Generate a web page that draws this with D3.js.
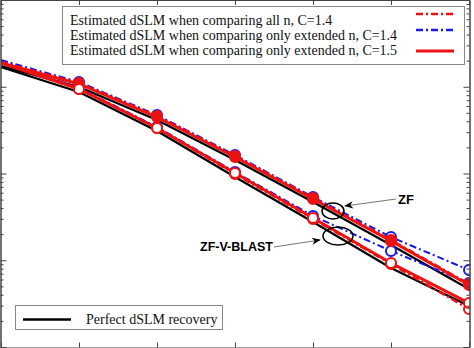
<!DOCTYPE html>
<html><head><meta charset="utf-8">
<script src="https://cdn.jsdelivr.net/npm/d3@7"></script>
<style>html,body{margin:0;padding:0;background:#fff;overflow:hidden}</style>
</head><body>
<svg id="c" width="474" height="348"></svg>
<script>
const snr = [0, 5, 10, 15, 20, 25, 30];
// ZF group
const zfBlueExt14 = [0.0203, 0.01134, 0.00472, 0.001634, 0.000536, 0.000185, 0.0000772];
const zfRedAll14  = [0.0193, 0.01105, 0.00460, 0.001591, 0.000522, 0.000171, 0.0000532];
const zfRedExt15  = [0.0188, 0.01076, 0.00448, 0.001550, 0.000508, 0.000167, 0.0000518];
const zfPerfect   = [0.0173, 0.00993, 0.00414, 0.001430, 0.000469, 0.000150, 0.0000466];
// ZF-V-BLAST group
const vbBlueExt14 = [0.0198, 0.00967, 0.00344, 0.001041, 0.000324, 0.000128, 0.0000547];
const vbRedAll14  = [0.0188, 0.00942, 0.00335, 0.000987, 0.000299, 0.0000905, 0.0000274];
const vbRedExt15  = [0.0188, 0.00942, 0.00335, 0.001013, 0.000307, 0.0000929, 0.0000321];
const vbPerfect   = [0.0169, 0.00870, 0.00309, 0.000911, 0.000276, 0.0000814, 0.0000297];

const legendLabels = [
  "Estimated dSLM when comparing all n, C=1.4",
  "Estimated dSLM when comparing only extended n, C=1.4",
  "Estimated dSLM when comparing only extended n, C=1.5"
];
const legend2Label = "Perfect dSLM recovery";

const svg = d3.select("#c");
const x = d3.scaleLinear().domain([0, 30]).range([1, 469]);
const y = d3.scaleLog().domain([1e-5, 1e-1]).range([347, 0]);

const plot = svg.append("g");
plot.append("clipPath").attr("id","clip").append("rect").attr("x",1).attr("y",-2).attr("width",469).attr("height",352);
const g = plot.append("g").attr("clip-path","url(#clip)");

const axisCol = "#444";
const yMajor = [1e-5,1e-4,1e-3,1e-2,1e-1];
const yMinor = [];
for (let e=-5;e<-1;e++) for (let k=2;k<=9;k++) yMinor.push(k*Math.pow(10,e));
svg.append("g").attr("transform","translate(0.5,0)").call(d3.axisRight(y).tickValues(yMajor).tickSize(6).tickFormat(""));
svg.append("g").attr("transform","translate(0.5,0)").call(d3.axisRight(y).tickValues(yMinor).tickSize(3).tickFormat(""));
svg.append("g").attr("transform","translate(469.5,0)").call(d3.axisLeft(y).tickValues(yMajor).tickSize(6).tickFormat(""));
svg.append("g").attr("transform","translate(469.5,0)").call(d3.axisLeft(y).tickValues(yMinor).tickSize(3).tickFormat(""));
svg.append("g").attr("transform","translate(0,0)").call(d3.axisBottom(x).tickValues(snr).tickSize(5).tickFormat(""));
svg.append("g").attr("transform","translate(0,347.5)").call(d3.axisTop(x).tickValues(snr).tickSize(5).tickFormat(""));
svg.selectAll(".domain").attr("stroke", axisCol);
svg.selectAll(".tick line").attr("stroke", axisCol);

const line = d3.line().x((d,i)=>x(snr[i])).y(d=>y(d));
const dashdot = "7,3,2,3";

function series(vals, color, width, dash, mFill, mStroke) {
  g.append("path").datum(vals).attr("d", line).attr("fill","none")
    .attr("stroke", color).attr("stroke-width", width)
    .attr("stroke-dasharray", dash || null);
  if (mFill !== undefined) {
    const pts = vals.map((v,i)=>({s:snr[i], v})).filter((d,i)=>i>0);
    g.selectAll(null).data(pts).enter().append("circle")
      .attr("cx",d=>x(d.s)).attr("cy",d=>y(d.v)).attr("r",5)
      .attr("fill", mFill).attr("stroke", mStroke).attr("stroke-width", 2);
  }
}
const red = "#ee1111", blue = "#1a1ae6";
series(zfPerfect, "#000", 2.2);
series(vbPerfect, "#000", 2.2);
series(zfBlueExt14, blue, 2, dashdot, "#fff", blue);
series(vbBlueExt14, blue, 2, dashdot, "#fff", blue);
series(zfRedAll14, red, 2.5, dashdot, red, red);
series(zfRedExt15, red, 3, null, red, red);
series(vbRedAll14, red, 2.5, dashdot, "#fff", red);
series(vbRedExt15, red, 3, null, "#fff", red);

// annotations
const defs = svg.append("defs");
defs.append("marker").attr("id","ah").attr("viewBox","0 0 10 10").attr("refX",9).attr("refY",5)
  .attr("markerWidth",9).attr("markerHeight",9).attr("orient","auto-start-reverse")
  .append("path").attr("d","M0,1 L10,5 L0,9 L3,5 Z").attr("fill","#000");
svg.append("ellipse").attr("cx",333).attr("cy",211).attr("rx",11).attr("ry",8)
  .attr("fill","none").attr("stroke","#000").attr("stroke-width",1.5);
svg.append("ellipse").attr("cx",338).attr("cy",236).attr("rx",15).attr("ry",9)
  .attr("fill","none").attr("stroke","#000").attr("stroke-width",1.5);
svg.append("line").attr("x1",396).attr("y1",199).attr("x2",345).attr("y2",206)
  .attr("stroke","#777").attr("stroke-width",1).attr("marker-end","url(#ah)");
svg.append("line").attr("x1",274).attr("y1",247).attr("x2",320).attr("y2",240)
  .attr("stroke","#777").attr("stroke-width",1).attr("marker-end","url(#ah)");
svg.append("text").attr("x",398).attr("y",204).text("ZF")
  .attr("font-family","Liberation Sans, Arial, sans-serif").attr("font-weight","bold").attr("font-size",13);
svg.append("text").attr("x",200).attr("y",251).text("ZF-V-BLAST")
  .attr("font-family","Liberation Sans, Arial, sans-serif").attr("font-weight","bold").attr("font-size",12.5);

// legend 1
const L1 = svg.append("g");
L1.append("rect").attr("x",62.5).attr("y",6.5).attr("width",402).attr("height",58)
  .attr("fill","#fff").attr("stroke","#888").attr("stroke-width",1);
const lstyles = [{c:red,d:dashdot,w:2.5,sy:14},{c:blue,d:dashdot,w:2.5,sy:30},{c:red,d:null,w:3,sy:51}];
legendLabels.forEach((t,i)=>{
  L1.append("text").attr("x",70).attr("y",25+i*15).text(t)
    .attr("font-family","Liberation Serif, Times New Roman, serif").attr("font-size",14).attr("fill","#111");
  L1.append("line").attr("x1",416).attr("x2",454).attr("y1",lstyles[i].sy).attr("y2",lstyles[i].sy)
    .attr("stroke",lstyles[i].c).attr("stroke-width",lstyles[i].w).attr("stroke-dasharray",lstyles[i].d);
});
// legend 2
const L2 = svg.append("g");
L2.append("rect").attr("x",15.5).attr("y",305.5).attr("width",207).attr("height",24)
  .attr("fill","#fff").attr("stroke","#888").attr("stroke-width",1);
L2.append("line").attr("x1",23).attr("x2",71).attr("y1",319.5).attr("y2",319.5).attr("stroke","#000").attr("stroke-width",2.5);
L2.append("text").attr("x",86).attr("y",324).text(legend2Label)
  .attr("font-family","Liberation Serif, Times New Roman, serif").attr("font-size",14).attr("fill","#111");
</script>
</body></html>
